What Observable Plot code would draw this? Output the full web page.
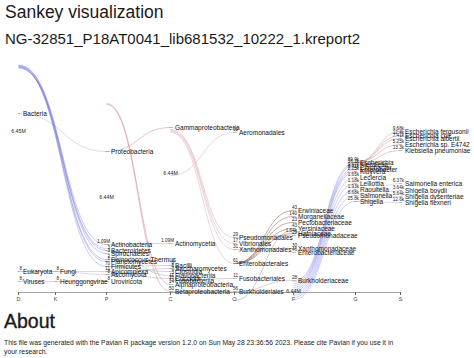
<!DOCTYPE html>
<html><head><meta charset="utf-8">
<script src="https://cdn.jsdelivr.net/npm/d3@7"></script>
<script src="https://cdn.jsdelivr.net/npm/@observablehq/plot@0.6"></script>
<style>
html,body{margin:0;padding:0;background:#fff}
body{width:474px;height:358px;overflow:hidden;position:relative;font-family:"Liberation Sans",Arial,sans-serif;color:#1a1a1a}
#title{position:absolute;left:5px;top:1px;font-size:17.5px;line-height:22px;white-space:nowrap}
#sub{position:absolute;left:5px;top:30px;font-size:15px;line-height:18px;white-space:nowrap}
#chart{position:absolute;left:0;top:50px}
#about{position:absolute;left:4px;top:309px;font-size:19.5px;line-height:24px;font-weight:normal;-webkit-text-stroke:0.35px #1a1a1a;white-space:nowrap}
#para{position:absolute;left:4px;top:337.5px;font-size:6.8px;line-height:9.5px;white-space:nowrap}
svg text{font-family:"Liberation Sans",Arial,sans-serif}
</style></head>
<body>
<div id="title">Sankey visualization</div>
<div id="sub">NG-32851_P18AT0041_lib681532_10222_1.kreport2</div>
<div id="chart"></div>
<div id="about">About</div>
<div id="para">This file was generated with the Pavian R package version 1.2.0 on Sun May 28 23:36:56 2023. Please cite Pavian if you use it in<br>your research.</div>
<script>
// taxonomic ranks (columns)
const ranks = ["D","K","P","C","O","F","G","S"];

// nodes: name, rank, layout position, reads label
const nodeNames = [
  "Bacteria","Eukaryota","Viruses",
  "Fungi","Heunggongvirae",
  "Proteobacteria","Actinobacteria","Bacteroidetes","Spirochaetes","Deinococcus-Thermus","Planctomycetes","Firmicutes","Apicomplexa","Ascomycota","Uroviricota",
  "Gammaproteobacteria","Actinomycetia","Bacilli","Saccharomycetes","Clostridia","Flavobacteriia","Coccidia","Fusobacteriia","Alphaproteobacteria","Betaproteobacteria",
  "Aeromonadales","Pseudomonadales","Vibrionales","Xanthomonadales","Enterobacterales","Fusobacteriales","Burkholderiales",
  "Erwiniaceae","Morganellaceae","Pectobacteriaceae","Yersiniaceae","Hafniaceae","Pseudomonadaceae","Xanthomonadaceae","Enterobacteriaceae","Burkholderiaceae",
  "Escherichia","Klebsiella","Citrobacter","Enterobacter","Kluyvera","Leclercia","Lelliottia","Raoultella","Salmonella","Shigella",
  "Escherichia fergusonii","Escherichia coli","Escherichia albertii","Escherichia sp. E4742","Klebsiella pneumoniae","Salmonella enterica","Shigella boydii","Shigella dysenteriae","Shigella flexneri"
];
const nodeRanks = [
  "D","D","D",
  "K","K",
  "P","P","P","P","P","P","P","P","P","P",
  "C","C","C","C","C","C","C","C","C","C",
  "O","O","O","O","O","O","O",
  "F","F","F","F","F","F","F","F","F",
  "G","G","G","G","G","G","G","G","G","G",
  "S","S","S","S","S","S","S","S","S"
];
const nodePos = [
  113,271,281,
  271,281,
  151,244,250,253,259,261,266,271,274,281,
  127,243,265,268,271,275,278,280,284,291,
  132,237,243,249,263,278,291,
  210,216,222,228,233,235,248,252,280,
  162,164,167,169,171,177,183,189,195,201,
  131,135,138,144,150,183,190,196,202
];
const nodeReads = [
  "","8","8",
  "8","8",
  "","1.09M","3","3","2","1","70","11","8","8",
  "","1.09M","8","8","3","3","11","11","14","50",
  "10","29","17","31","61","11","56",
  "43","140","23","43","1.64k","29","30","46","28",
  "89.9k","16.2k","9.47k","8.41k","2.15k","1.65k","1.18k","1.93k","8.68k","25.8k",
  "9.68k","12.4k","7.41k","5.25k","13.3k","6.37k","3.64k","5.64k","12.6k"
];

// clade totals shown at large nodes
const bigNodes = ["Bacteria","Proteobacteria","Gammaproteobacteria","Enterobacteriaceae"];
const bigTotals = ["6.45M","6.44M","6.44M","6.44M"];
const bigPos = [131,197,173,291];

// links: source, target, source anchor, target anchor (null = node position)
const linkSource = [
  "Bacteria","Bacteria","Bacteria","Bacteria","Bacteria","Bacteria","Bacteria","Bacteria",
  "Eukaryota","Eukaryota","Viruses","Fungi","Heunggongvirae",
  "Proteobacteria","Proteobacteria","Proteobacteria",
  "Actinobacteria","Firmicutes","Firmicutes","Bacteroidetes","Ascomycota","Apicomplexa",
  "Gammaproteobacteria","Gammaproteobacteria","Gammaproteobacteria","Gammaproteobacteria","Gammaproteobacteria",
  "Betaproteobacteria","Fusobacteriia",
  "Pseudomonadales","Xanthomonadales","Burkholderiales",
  "Enterobacterales","Enterobacterales","Enterobacterales","Enterobacterales","Enterobacterales","Enterobacterales",
  "Enterobacteriaceae","Enterobacteriaceae","Enterobacteriaceae","Enterobacteriaceae","Enterobacteriaceae","Enterobacteriaceae","Enterobacteriaceae","Enterobacteriaceae","Enterobacteriaceae","Enterobacteriaceae",
  "Escherichia","Escherichia","Escherichia","Escherichia","Klebsiella",
  "Salmonella","Shigella","Shigella","Shigella"
];
const linkTarget = [
  "Proteobacteria","Actinobacteria","Bacteroidetes","Spirochaetes","Deinococcus-Thermus","Planctomycetes","Firmicutes","Actinobacteria",
  "Fungi","Apicomplexa","Heunggongvirae","Ascomycota","Uroviricota",
  "Gammaproteobacteria","Alphaproteobacteria","Betaproteobacteria",
  "Actinomycetia","Bacilli","Clostridia","Flavobacteriia","Saccharomycetes","Coccidia",
  "Aeromonadales","Pseudomonadales","Vibrionales","Xanthomonadales","Enterobacterales",
  "Burkholderiales","Fusobacteriales",
  "Pseudomonadaceae","Xanthomonadaceae","Burkholderiaceae",
  "Erwiniaceae","Morganellaceae","Pectobacteriaceae","Yersiniaceae","Hafniaceae","Enterobacteriaceae",
  "Escherichia","Klebsiella","Citrobacter","Enterobacter","Kluyvera","Leclercia","Lelliottia","Raoultella","Salmonella","Shigella",
  "Escherichia fergusonii","Escherichia coli","Escherichia albertii","Escherichia sp. E4742","Klebsiella pneumoniae",
  "Salmonella enterica","Shigella boydii","Shigella dysenteriae","Shigella flexneri"
];
const linkFrom = [
  null,64.5,65,65.5,66,66.5,67,67.5,
  null,null,null,null,null,
  null,103,104,
  null,null,null,null,null,null,
  175,129,130,131,132,
  null,null,
  null,null,null,
  null,null,null,null,null,300,
  281,283,285,287,289,291,293,295,297,299,
  null,null,null,null,null,
  null,null,null,null
];
const linkTo = [
  null,null,null,null,null,null,null,248,
  null,null,null,null,null,
  null,null,null,
  null,null,null,null,null,null,
  null,null,null,null,null,
  null,null,
  null,null,null,
  null,null,null,null,null,230,
  null,null,null,null,null,null,null,null,null,null,
  null,null,null,null,null,
  null,null,null,null
];

// ---- build tables ----
const nodes = nodeNames.map((name, i) => ({name, r: ranks.indexOf(nodeRanks[i]), pos: nodePos[i], reads: nodeReads[i]}));
const byName = new Map(nodes.map(d => [d.name, d]));
const big = bigNodes.map((n, i) => ({r: byName.get(n).r, pos: bigPos[i], total: bigTotals[i]}));
const groupOf = (s, anchored) => {
  if (s === "Bacteria") return anchored ? "bacteria" : "faint";
  return ({
    "Proteobacteria": "proteo", "Gammaproteobacteria": "gamma",
    "Enterobacterales": "entero", "Enterobacteriaceae": "family",
    "Escherichia": "genus", "Klebsiella": "genus", "Salmonella": "genus2", "Shigella": "genus2",
    "Eukaryota": "euk", "Fungi": "euk", "Viruses": "euk", "Heunggongvirae": "euk"
  })[s] || "other";
};
const links = linkSource.map((s, i) => {
  const a = byName.get(s), b = byName.get(linkTarget[i]);
  return {x1: a.r, y1: linkFrom[i] ?? a.pos, x2: b.r, y2: linkTo[i] ?? b.pos, group: groupOf(s, linkFrom[i] != null)};
});
const bundle = links.filter(d => d.group === "bacteria" || d.group === "family" || d.group === "entero" && d.y1 > 290);
const rest = links.filter(d => !bundle.includes(d));

const yDomain = [50, 292];
const chart = Plot.plot({
  width: 474, height: 258,
  marginTop: 0, marginBottom: 16, marginLeft: 0, marginRight: 0,
  style: {background: "transparent", overflow: "visible", fontFamily: "Liberation Sans, Arial, sans-serif"},
  x: {type: "linear", domain: d3.range(ranks.length), range: [18, 55, 106, 170, 234, 293, 355, 400]},
  y: {domain: yDomain, reverse: true, axis: null},
  color: {type: "ordinal",
    domain: ["bacteria","faint","proteo","gamma","entero","family","genus","genus2","euk","other"],
    range: ["#5a5ad0","#b4b4d8","#c98590","#d9a8b0","#8c5a48","#6c6ce0","#d4909c","#bcbccf","#caa9b1","#aaaab6"]},
  marks: [
    Plot.link(rest, {x1: "x1", y1: "y1", x2: "x2", y2: "y2", stroke: "group", curve: "bump-x", strokeWidth: 0.7, strokeOpacity: 0.7}),
    Plot.link(bundle, {x1: "x1", y1: "y1", x2: "x2", y2: "y2", stroke: "group", curve: "bump-x", strokeWidth: 0.6, strokeOpacity: 0.55}),
    Plot.ruleY([yDomain[1]], {x1: () => 0, x2: () => ranks.length - 1, stroke: "#666", strokeWidth: 0.6}),
    Plot.axisX({ticks: d3.range(ranks.length), tickFormat: i => ranks[i], tickSize: 3, tickPadding: 1.5, fontSize: 5.5, stroke: "#666", fill: "#444", label: null}),
    Plot.ruleY(nodes, {y: "pos", x1: d => d.r - 0.015, x2: d => d.r + 0.05, stroke: "#999", strokeWidth: 0.6}),
    Plot.text(nodes, {x: "r", y: "pos", text: "name", textAnchor: "start", dx: 4.5, fontSize: 6.5, fill: "#111"}),
    Plot.text(nodes, {x: "r", y: "pos", text: "reads", textAnchor: "end", dx: 3.5, dy: -2.5, fontSize: 4.6, fill: "#222"}),
    Plot.text(big, {x: "r", y: "pos", text: "total", fontSize: 5.2, fill: "#222"})
  ]
});
document.getElementById("chart").appendChild(chart);
</script>
</body></html>
